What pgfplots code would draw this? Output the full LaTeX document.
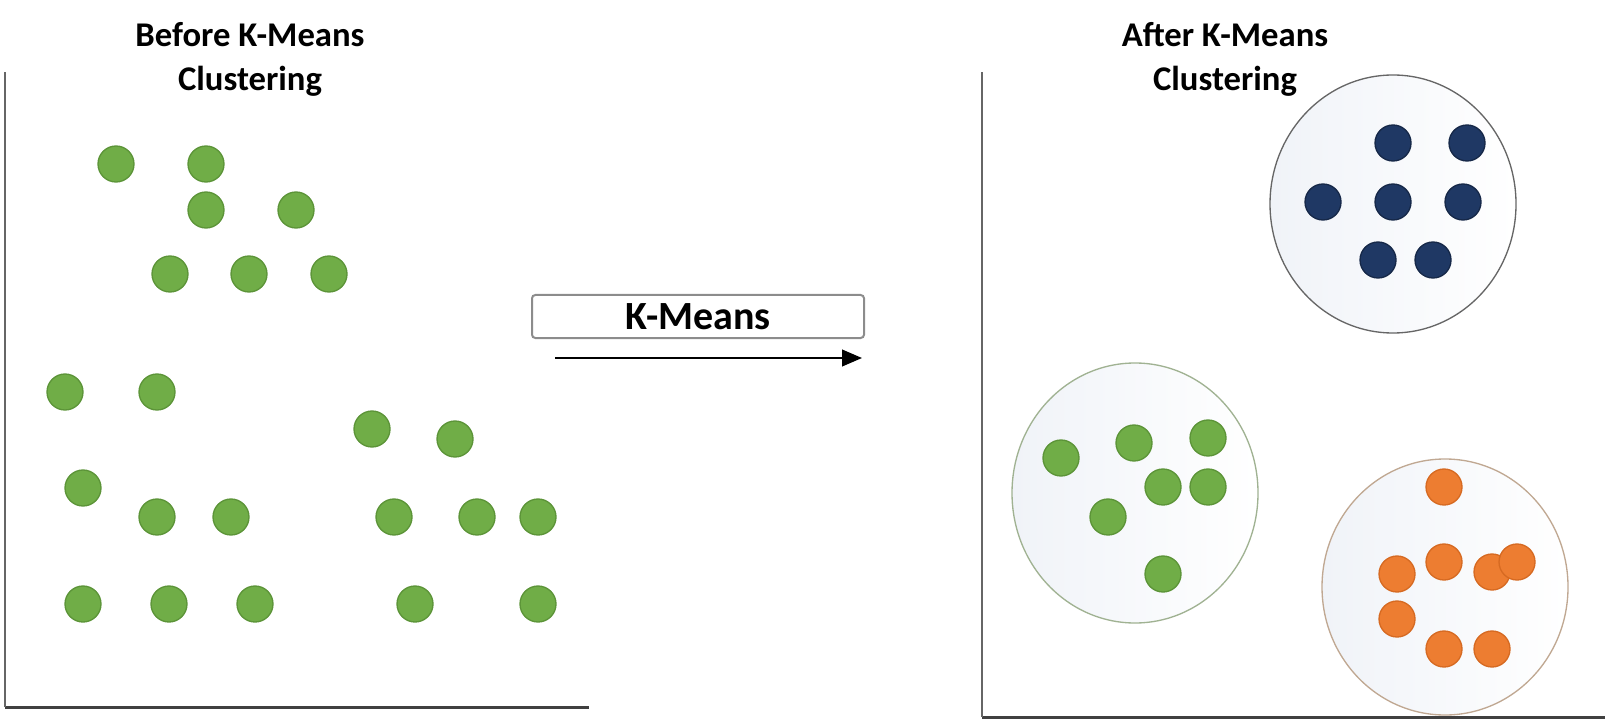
\documentclass[border=0pt]{standalone}
\usepackage{fontspec}
\setmainfont{Carlito}
\usepackage{pgfplots}
\pgfplotsset{compat=1.18}
\usetikzlibrary{arrows.meta}

\definecolor{dotgreen}{RGB}{112,173,71}
\definecolor{dotgreenedge}{RGB}{92,148,56}
\definecolor{dotblue}{RGB}{31,56,100}
\definecolor{dotblueedge}{RGB}{22,40,72}
\definecolor{dotorange}{RGB}{237,125,49}
\definecolor{dotorangeedge}{RGB}{214,106,34}
\definecolor{haze}{RGB}{240,243,248}

\pgfplotsset{
  panel/.style={
    scale only axis, clip=false,
    axis lines=left,
    axis line style={-, draw=black!60, line width=0.8pt},
    x axis line style={draw=black!75, line width=0.9pt},
    ticks=none,
  },
  dots/.style={only marks, mark=*, mark size=5.4pt,
    mark options={fill=#1, draw=#1edge, line width=0.4pt}},
}

\begin{document}
\begin{tikzpicture}
\path[use as bounding box] (0,0) rectangle (481.5pt,217.5pt);

% before clustering (1 unit = 1 px of the original)
\begin{axis}[panel,
    at={(1.5pt,5.4pt)}, anchor=south west,
    width=175.2pt, height=190.5pt,
    xmin=5, xmax=589, ymin=18, ymax=653]
  \addplot[dots=dotgreen] coordinates {
    (116,561) (206,561) (206,515) (296,515)
    (170,451) (249,451) (329,451)
    (65,333) (157,333) (83,237) (157,208) (231,208)
    (83,121) (169,121) (255,121)
    (372,296) (455,286) (394,208) (477,208) (538,208)
    (415,121) (538,121)};
  \node[font=\fontsize{10.4}{13.2}\selectfont\bfseries, align=center]
    at (axis cs:250,666) {Before K-Means\\Clustering};
  % arrow between the panels
  \draw[draw=black!45, line width=0.6pt, rounded corners=1pt, fill=white]
    (axis cs:532,430) rectangle (axis cs:864,387);
  \node[font=\fontsize{12}{15}\selectfont\bfseries]
    at (axis cs:698,408) {K-Means};
  \draw[line width=0.6pt, -{Triangle[length=6pt, width=5pt]}]
    (axis cs:555,367) -- (axis cs:862,367);
\end{axis}

% after clustering
\begin{axis}[panel,
    at={(294.6pt,2.4pt)}, anchor=south west,
    width=186.9pt, height=193.5pt,
    xmin=982, xmax=1605, ymin=8, ymax=653]
  \draw[draw=black!60, line width=0.4pt, left color=haze, right color=white]
    (axis cs:1393,521) ellipse [x radius=123, y radius=129];
  \draw[draw={rgb,255:red,160;green,178;blue,146}, line width=0.4pt, left color=haze, right color=white]
    (axis cs:1135,232) ellipse [x radius=123, y radius=130];
  \draw[draw={rgb,255:red,192;green,168;blue,146}, line width=0.4pt, left color=haze, right color=white]
    (axis cs:1445,138) ellipse [x radius=123, y radius=128];
  \addplot[dots=dotblue] coordinates {
    (1393,582) (1467,582) (1323,523) (1393,523) (1463,523)
    (1378,465) (1433,465)};
  \addplot[dots=dotgreen] coordinates {
    (1061,267) (1134,282) (1208,287) (1163,238) (1208,238)
    (1108,208) (1163,151)};
  \addplot[dots=dotorange] coordinates {
    (1444,238) (1444,163) (1397,151) (1492,153) (1517,163)
    (1397,106) (1444,76) (1492,76)};
  \node[font=\fontsize{10.4}{13.2}\selectfont\bfseries, align=center]
    at (axis cs:1225,666) {After K-Means\\Clustering};
\end{axis}
\end{tikzpicture}
\end{document}
